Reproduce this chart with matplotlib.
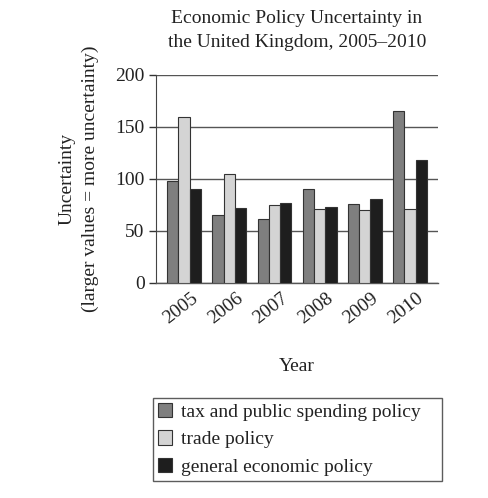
import numpy as np
import matplotlib
matplotlib.use("Agg")
import matplotlib.pyplot as plt

years = ["2005", "2006", "2007", "2008", "2009", "2010"]
tax_spending = [98, 65, 61, 90, 76, 165]
trade = [160, 105, 75, 71, 70, 71]
general = [90, 72, 77, 73, 81, 118]

series_names = ["tax and public spending policy", "trade policy", "general economic policy"]
colors = ["#7f7f7f", "#d4d4d4", "#1e1e1e"]

plt.rcParams['font.family'] = ['Liberation Serif', 'DejaVu Serif']
txt = "#222222"
fs = 14

fig = plt.figure(figsize=(4.88, 4.98), dpi=100)
ax = fig.add_axes([0.319, 0.4323, 0.5785, 0.4171])

x = np.arange(len(years))
w = 0.25
for i, vals in enumerate([tax_spending, trade, general]):
    ax.bar(x + (i - 1) * w, vals, width=w, color=colors[i], edgecolor="#333333",
           linewidth=0.8, label=series_names[i], zorder=3)

ax.set_ylim(0, 200)
ax.set_xlim(-0.63, 5.62)
ax.set_yticks([0, 50, 100, 150, 200])
ax.yaxis.grid(True, color="#555555", linewidth=1.0, zorder=0)
ax.set_axisbelow(True)
for s in ["top", "right"]:
    ax.spines[s].set_visible(False)
ax.spines["left"].set_color("#444444")
ax.spines["bottom"].set_color("#555555")
ax.spines["bottom"].set_linewidth(1.0)
ax.tick_params(axis="y", length=5, width=1, color="#333333", labelsize=fs, labelcolor=txt, pad=3)
ax.tick_params(axis="x", length=0, labelsize=fs, labelcolor=txt, pad=5)
ax.set_xticks(x + 0.14)
ax.set_xticklabels(years, rotation=38, ha="right", rotation_mode="anchor")

ax.set_title("Economic Policy Uncertainty in\nthe United Kingdom, 2005\u20132010",
             fontsize=fs, color=txt, pad=20, linespacing=1.55)
ax.set_xlabel("Year", fontsize=fs, color=txt, labelpad=22)
ax.set_ylabel("Uncertainty\n(larger values = more uncertainty)", fontsize=fs,
              color=txt, labelpad=12, linespacing=1.45)

leg = fig.legend(loc="lower left", bbox_to_anchor=(0.313, 0.0347, 0.592, 0.1755),
                 mode="expand", borderaxespad=0, fontsize=fs, frameon=True,
                 fancybox=False, handlelength=0.75, handleheight=0.75,
                 handletextpad=0.45, labelspacing=0.5, borderpad=0.25)
leg.get_frame().set_edgecolor("#333333")
leg.get_frame().set_linewidth(1.0)
for t in leg.get_texts():
    t.set_color(txt)

fig.savefig("out.png", dpi=100)
